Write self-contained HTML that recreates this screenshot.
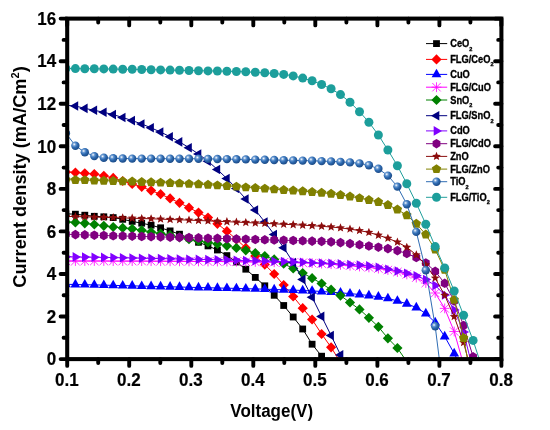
<!DOCTYPE html>
<html lang="en"><head><meta charset="utf-8"><title>J-V curves</title>
<style>html,body{margin:0;padding:0;background:#fff}svg{display:block}</style></head>
<body>
<svg width="550" height="430" viewBox="0 0 550 430" font-family="'Liberation Sans', Arial, sans-serif" font-weight="bold">
<defs><rect id="m-sq" x="-3.4" y="-3.4" width="6.8" height="6.8"/><polygon id="m-dia" points="0,-5.1 5.1,0 0,5.1 -5.1,0"/><polygon id="m-tu" points="0,-5.7 4.9,2.9 -4.9,2.9"/><polygon id="m-tl" points="-5.5,0 2.8,-4.8 2.8,4.8"/><polygon id="m-tr" points="5.5,0 -2.8,-4.8 -2.8,4.8"/><polygon id="m-hex" points="0,-4.8 3.9,-2.4 3.9,2.4 0,4.8 -3.9,2.4 -3.9,-2.4"/><polygon id="m-star" points="0,-4.6 1.2,-1.7 4.4,-1.4 1.9,0.6 2.7,3.7 0,2 -2.7,3.7 -1.9,0.6 -4.4,-1.4 -1.2,-1.7"/><polygon id="m-pent" points="0,-4.9 4.7,-1.5 2.9,4 -2.9,4 -4.7,-1.5"/><circle id="m-circ" r="4.5"/><g id="m-ast" fill="none" stroke-width="0.8"><path d="M0,-4.9V4.9M-4.9,0H4.9M-4.2,-4.2L4.2,4.2M-4.2,4.2L4.2,-4.2"/></g><radialGradient id="sg" cx="0.36" cy="0.34" r="0.62"><stop offset="0" stop-color="#ffffff"/><stop offset="0.3" stop-color="#6a9ad2"/><stop offset="0.6" stop-color="#2f6cb3"/><stop offset="1" stop-color="#1f4f8c"/></radialGradient><circle id="m-sph" r="4.2" fill="url(#sg)"/><filter id="bl" x="0" y="0" width="550" height="430" filterUnits="userSpaceOnUse"><feGaussianBlur stdDeviation="0.45"/></filter><clipPath id="cp"><rect x="67.2" y="18.6" width="434.2" height="342"/></clipPath></defs>
<rect width="550" height="430" fill="#fff"/>
<g filter="url(#bl)">
<g clip-path="url(#cp)">
<g fill="#000000" stroke="#000000">
<polyline fill="none" stroke-width="1" points="65.9,213.8 75.4,214.2 84.8,215.2 94.3,216.3 103.8,216.8 113.2,217.6 122.7,219.3 132.2,221.4 141.7,223.2 151.1,225.2 160.6,227.8 170.1,230.9 179.5,234.2 189,238 198.5,242.3 208,245.9 217.4,250 226.9,255.6 236.4,262 245.8,269.2 255.3,277.4 264.8,285.8 274.2,295.3 283.7,305.5 293.2,317 302.7,329 312.1,344.2 321.6,356.2 324.3,359.1"/>
<g stroke="none"><use href="#m-sq" x="65.9" y="213.8"/><use href="#m-sq" x="75.4" y="214.2"/><use href="#m-sq" x="84.8" y="215.2"/><use href="#m-sq" x="94.3" y="216.3"/><use href="#m-sq" x="103.8" y="216.8"/><use href="#m-sq" x="113.2" y="217.6"/><use href="#m-sq" x="122.7" y="219.3"/><use href="#m-sq" x="132.2" y="221.4"/><use href="#m-sq" x="141.7" y="223.2"/><use href="#m-sq" x="151.1" y="225.2"/><use href="#m-sq" x="160.6" y="227.8"/><use href="#m-sq" x="170.1" y="230.9"/><use href="#m-sq" x="179.5" y="234.2"/><use href="#m-sq" x="189" y="238"/><use href="#m-sq" x="198.5" y="242.3"/><use href="#m-sq" x="208" y="245.9"/><use href="#m-sq" x="217.4" y="250"/><use href="#m-sq" x="226.9" y="255.6"/><use href="#m-sq" x="236.4" y="262"/><use href="#m-sq" x="245.8" y="269.2"/><use href="#m-sq" x="255.3" y="277.4"/><use href="#m-sq" x="264.8" y="285.8"/><use href="#m-sq" x="274.2" y="295.3"/><use href="#m-sq" x="283.7" y="305.5"/><use href="#m-sq" x="293.2" y="317"/><use href="#m-sq" x="302.7" y="329"/><use href="#m-sq" x="312.1" y="344.2"/><use href="#m-sq" x="321.6" y="356.2"/></g>
</g>
<g fill="#ff0000" stroke="#ff0000">
<polyline fill="none" stroke-width="1" points="65.9,172 75.4,172.5 84.8,173.3 94.3,174 103.8,175.8 113.2,177.9 122.7,181 132.2,184 141.7,186.8 151.1,190.6 160.6,194.2 170.1,198.4 179.5,202.8 189,207.7 198.5,212.6 208,217.6 217.4,223.8 226.9,231.2 236.4,239.3 245.8,247.9 255.3,256 264.8,264.6 274.2,274 283.7,285 293.2,296.5 302.7,308.2 312.1,319.5 321.6,334 331.1,347.3 338.4,359.1"/>
<g stroke="none"><use href="#m-dia" x="65.9" y="172"/><use href="#m-dia" x="75.4" y="172.5"/><use href="#m-dia" x="84.8" y="173.3"/><use href="#m-dia" x="94.3" y="174"/><use href="#m-dia" x="103.8" y="175.8"/><use href="#m-dia" x="113.2" y="177.9"/><use href="#m-dia" x="122.7" y="181"/><use href="#m-dia" x="132.2" y="184"/><use href="#m-dia" x="141.7" y="186.8"/><use href="#m-dia" x="151.1" y="190.6"/><use href="#m-dia" x="160.6" y="194.2"/><use href="#m-dia" x="170.1" y="198.4"/><use href="#m-dia" x="179.5" y="202.8"/><use href="#m-dia" x="189" y="207.7"/><use href="#m-dia" x="198.5" y="212.6"/><use href="#m-dia" x="208" y="217.6"/><use href="#m-dia" x="217.4" y="223.8"/><use href="#m-dia" x="226.9" y="231.2"/><use href="#m-dia" x="236.4" y="239.3"/><use href="#m-dia" x="245.8" y="247.9"/><use href="#m-dia" x="255.3" y="256"/><use href="#m-dia" x="264.8" y="264.6"/><use href="#m-dia" x="274.2" y="274"/><use href="#m-dia" x="283.7" y="285"/><use href="#m-dia" x="293.2" y="296.5"/><use href="#m-dia" x="302.7" y="308.2"/><use href="#m-dia" x="312.1" y="319.5"/><use href="#m-dia" x="321.6" y="334"/><use href="#m-dia" x="331.1" y="347.3"/></g>
</g>
<g fill="#0000ff" stroke="#0000ff">
<polyline fill="none" stroke-width="1" points="65.9,284.3 75.4,284.5 84.8,284.7 94.3,284.9 103.8,285.1 113.2,285.4 122.7,285.6 132.2,285.8 141.7,286.1 151.1,286.3 160.6,286.5 170.1,286.8 179.5,287 189,287.3 198.5,287.5 208,287.7 217.4,288 226.9,288.2 236.4,288.4 245.8,288.7 255.3,288.9 264.8,289.2 274.2,289.5 283.7,289.8 293.2,290.1 302.7,290.5 312.1,290.9 321.6,291.5 331.1,292.1 340.5,292.8 350,293.6 359.5,294.5 368.9,295.5 378.4,296.8 387.9,298.4 397.4,300.9 406.8,303.8 416.3,307.5 425.8,313.5 435.2,322.5 444.7,336.5 454.2,353.5 457,359.1"/>
<g stroke="none"><use href="#m-tu" x="65.9" y="284.3"/><use href="#m-tu" x="75.4" y="284.5"/><use href="#m-tu" x="84.8" y="284.7"/><use href="#m-tu" x="94.3" y="284.9"/><use href="#m-tu" x="103.8" y="285.1"/><use href="#m-tu" x="113.2" y="285.4"/><use href="#m-tu" x="122.7" y="285.6"/><use href="#m-tu" x="132.2" y="285.8"/><use href="#m-tu" x="141.7" y="286.1"/><use href="#m-tu" x="151.1" y="286.3"/><use href="#m-tu" x="160.6" y="286.5"/><use href="#m-tu" x="170.1" y="286.8"/><use href="#m-tu" x="179.5" y="287"/><use href="#m-tu" x="189" y="287.3"/><use href="#m-tu" x="198.5" y="287.5"/><use href="#m-tu" x="208" y="287.7"/><use href="#m-tu" x="217.4" y="288"/><use href="#m-tu" x="226.9" y="288.2"/><use href="#m-tu" x="236.4" y="288.4"/><use href="#m-tu" x="245.8" y="288.7"/><use href="#m-tu" x="255.3" y="288.9"/><use href="#m-tu" x="264.8" y="289.2"/><use href="#m-tu" x="274.2" y="289.5"/><use href="#m-tu" x="283.7" y="289.8"/><use href="#m-tu" x="293.2" y="290.1"/><use href="#m-tu" x="302.7" y="290.5"/><use href="#m-tu" x="312.1" y="290.9"/><use href="#m-tu" x="321.6" y="291.5"/><use href="#m-tu" x="331.1" y="292.1"/><use href="#m-tu" x="340.5" y="292.8"/><use href="#m-tu" x="350" y="293.6"/><use href="#m-tu" x="359.5" y="294.5"/><use href="#m-tu" x="368.9" y="295.5"/><use href="#m-tu" x="378.4" y="296.8"/><use href="#m-tu" x="387.9" y="298.4"/><use href="#m-tu" x="397.4" y="300.9"/><use href="#m-tu" x="406.8" y="303.8"/><use href="#m-tu" x="416.3" y="307.5"/><use href="#m-tu" x="425.8" y="313.5"/><use href="#m-tu" x="435.2" y="322.5"/><use href="#m-tu" x="444.7" y="336.5"/><use href="#m-tu" x="454.2" y="353.5"/></g>
</g>
<g fill="#ff00ff" stroke="#ff00ff">
<polyline fill="none" stroke-width="1" points="65.9,261 75.4,261 84.8,261 94.3,261 103.8,261 113.2,261.1 122.7,261.1 132.2,261.1 141.7,261.1 151.1,261.2 160.6,261.2 170.1,261.3 179.5,261.3 189,261.4 198.5,261.4 208,261.5 217.4,261.5 226.9,261.6 236.4,261.7 245.8,261.8 255.3,261.9 264.8,262.1 274.2,262.2 283.7,262.4 293.2,262.6 302.7,262.8 312.1,263.1 321.6,263.6 331.1,264.2 340.5,264.9 350,265.7 359.5,266.5 368.9,267.4 378.4,268.6 387.9,270 397.4,272 406.8,274.4 416.3,277.6 425.8,283 435.2,293 444.7,308.4 454.2,331.5 462,359.1"/>
<g><use href="#m-ast" x="65.9" y="261"/><use href="#m-ast" x="75.4" y="261"/><use href="#m-ast" x="84.8" y="261"/><use href="#m-ast" x="94.3" y="261"/><use href="#m-ast" x="103.8" y="261"/><use href="#m-ast" x="113.2" y="261.1"/><use href="#m-ast" x="122.7" y="261.1"/><use href="#m-ast" x="132.2" y="261.1"/><use href="#m-ast" x="141.7" y="261.1"/><use href="#m-ast" x="151.1" y="261.2"/><use href="#m-ast" x="160.6" y="261.2"/><use href="#m-ast" x="170.1" y="261.3"/><use href="#m-ast" x="179.5" y="261.3"/><use href="#m-ast" x="189" y="261.4"/><use href="#m-ast" x="198.5" y="261.4"/><use href="#m-ast" x="208" y="261.5"/><use href="#m-ast" x="217.4" y="261.5"/><use href="#m-ast" x="226.9" y="261.6"/><use href="#m-ast" x="236.4" y="261.7"/><use href="#m-ast" x="245.8" y="261.8"/><use href="#m-ast" x="255.3" y="261.9"/><use href="#m-ast" x="264.8" y="262.1"/><use href="#m-ast" x="274.2" y="262.2"/><use href="#m-ast" x="283.7" y="262.4"/><use href="#m-ast" x="293.2" y="262.6"/><use href="#m-ast" x="302.7" y="262.8"/><use href="#m-ast" x="312.1" y="263.1"/><use href="#m-ast" x="321.6" y="263.6"/><use href="#m-ast" x="331.1" y="264.2"/><use href="#m-ast" x="340.5" y="264.9"/><use href="#m-ast" x="350" y="265.7"/><use href="#m-ast" x="359.5" y="266.5"/><use href="#m-ast" x="368.9" y="267.4"/><use href="#m-ast" x="378.4" y="268.6"/><use href="#m-ast" x="387.9" y="270"/><use href="#m-ast" x="397.4" y="272"/><use href="#m-ast" x="406.8" y="274.4"/><use href="#m-ast" x="416.3" y="277.6"/><use href="#m-ast" x="425.8" y="283"/><use href="#m-ast" x="435.2" y="293"/><use href="#m-ast" x="444.7" y="308.4"/><use href="#m-ast" x="454.2" y="331.5"/></g>
</g>
<g fill="#008000" stroke="#008000">
<polyline fill="none" stroke-width="1" points="65.9,222 75.4,222.4 84.8,223.3 94.3,224.5 103.8,225.8 113.2,227 122.7,227.9 132.2,228.8 141.7,230.3 151.1,232.1 160.6,233.6 170.1,235.2 179.5,237.3 189,239.2 198.5,241 208,242.5 217.4,244 226.9,245.8 236.4,247.9 245.8,250.3 255.3,253 264.8,256 274.2,259.4 283.7,263.7 293.2,268.4 302.7,273 312.1,278.2 321.6,283.5 331.1,289.7 340.5,295.6 350,302.5 359.5,309.4 368.9,317.8 378.4,326.8 387.9,338.3 397.4,348 405,359.1"/>
<g stroke="none"><use href="#m-dia" x="65.9" y="222"/><use href="#m-dia" x="75.4" y="222.4"/><use href="#m-dia" x="84.8" y="223.3"/><use href="#m-dia" x="94.3" y="224.5"/><use href="#m-dia" x="103.8" y="225.8"/><use href="#m-dia" x="113.2" y="227"/><use href="#m-dia" x="122.7" y="227.9"/><use href="#m-dia" x="132.2" y="228.8"/><use href="#m-dia" x="141.7" y="230.3"/><use href="#m-dia" x="151.1" y="232.1"/><use href="#m-dia" x="160.6" y="233.6"/><use href="#m-dia" x="170.1" y="235.2"/><use href="#m-dia" x="179.5" y="237.3"/><use href="#m-dia" x="189" y="239.2"/><use href="#m-dia" x="198.5" y="241"/><use href="#m-dia" x="208" y="242.5"/><use href="#m-dia" x="217.4" y="244"/><use href="#m-dia" x="226.9" y="245.8"/><use href="#m-dia" x="236.4" y="247.9"/><use href="#m-dia" x="245.8" y="250.3"/><use href="#m-dia" x="255.3" y="253"/><use href="#m-dia" x="264.8" y="256"/><use href="#m-dia" x="274.2" y="259.4"/><use href="#m-dia" x="283.7" y="263.7"/><use href="#m-dia" x="293.2" y="268.4"/><use href="#m-dia" x="302.7" y="273"/><use href="#m-dia" x="312.1" y="278.2"/><use href="#m-dia" x="321.6" y="283.5"/><use href="#m-dia" x="331.1" y="289.7"/><use href="#m-dia" x="340.5" y="295.6"/><use href="#m-dia" x="350" y="302.5"/><use href="#m-dia" x="359.5" y="309.4"/><use href="#m-dia" x="368.9" y="317.8"/><use href="#m-dia" x="378.4" y="326.8"/><use href="#m-dia" x="387.9" y="338.3"/><use href="#m-dia" x="397.4" y="348"/></g>
</g>
<g fill="#000080" stroke="#000080">
<polyline fill="none" stroke-width="1" points="65.9,105.3 75.4,106 84.8,108.4 94.3,110.3 103.8,112.3 113.2,114.6 122.7,117.5 132.2,120.6 141.7,124 151.1,127.8 160.6,132.1 170.1,136.7 179.5,141.9 189,147.7 198.5,154 208,161.2 217.4,169.5 226.9,178.6 236.4,188.5 245.8,199 255.3,210 264.8,222 274.2,234.5 283.7,247.7 293.2,262.5 302.7,279.4 312.1,297.2 321.6,316.4 331.1,335.5 340.5,354.9 342,359.1"/>
<g stroke="none"><use href="#m-tl" x="65.9" y="105.3"/><use href="#m-tl" x="75.4" y="106"/><use href="#m-tl" x="84.8" y="108.4"/><use href="#m-tl" x="94.3" y="110.3"/><use href="#m-tl" x="103.8" y="112.3"/><use href="#m-tl" x="113.2" y="114.6"/><use href="#m-tl" x="122.7" y="117.5"/><use href="#m-tl" x="132.2" y="120.6"/><use href="#m-tl" x="141.7" y="124"/><use href="#m-tl" x="151.1" y="127.8"/><use href="#m-tl" x="160.6" y="132.1"/><use href="#m-tl" x="170.1" y="136.7"/><use href="#m-tl" x="179.5" y="141.9"/><use href="#m-tl" x="189" y="147.7"/><use href="#m-tl" x="198.5" y="154"/><use href="#m-tl" x="208" y="161.2"/><use href="#m-tl" x="217.4" y="169.5"/><use href="#m-tl" x="226.9" y="178.6"/><use href="#m-tl" x="236.4" y="188.5"/><use href="#m-tl" x="245.8" y="199"/><use href="#m-tl" x="255.3" y="210"/><use href="#m-tl" x="264.8" y="222"/><use href="#m-tl" x="274.2" y="234.5"/><use href="#m-tl" x="283.7" y="247.7"/><use href="#m-tl" x="293.2" y="262.5"/><use href="#m-tl" x="302.7" y="279.4"/><use href="#m-tl" x="312.1" y="297.2"/><use href="#m-tl" x="321.6" y="316.4"/><use href="#m-tl" x="331.1" y="335.5"/><use href="#m-tl" x="340.5" y="354.9"/></g>
</g>
<g fill="#8000ff" stroke="#8000ff">
<polyline fill="none" stroke-width="1" points="65.9,256.7 75.4,256.9 84.8,257.1 94.3,257.2 103.8,257.4 113.2,257.6 122.7,257.8 132.2,258 141.7,258.2 151.1,258.4 160.6,258.6 170.1,258.8 179.5,259 189,259.2 198.5,259.4 208,259.6 217.4,259.8 226.9,260 236.4,260.3 245.8,260.5 255.3,260.8 264.8,261 274.2,261.3 283.7,261.6 293.2,261.9 302.7,262.3 312.1,262.7 321.6,263 331.1,263.4 340.5,263.9 350,264.5 359.5,265.1 368.9,265.9 378.4,267.3 387.9,269.2 397.4,271 406.8,273.3 416.3,275.8 425.8,279.6 435.2,285.4 444.7,295 454.2,309.9 463.6,332 470.3,359.1"/>
<g stroke="none"><use href="#m-tr" x="65.9" y="256.7"/><use href="#m-tr" x="75.4" y="256.9"/><use href="#m-tr" x="84.8" y="257.1"/><use href="#m-tr" x="94.3" y="257.2"/><use href="#m-tr" x="103.8" y="257.4"/><use href="#m-tr" x="113.2" y="257.6"/><use href="#m-tr" x="122.7" y="257.8"/><use href="#m-tr" x="132.2" y="258"/><use href="#m-tr" x="141.7" y="258.2"/><use href="#m-tr" x="151.1" y="258.4"/><use href="#m-tr" x="160.6" y="258.6"/><use href="#m-tr" x="170.1" y="258.8"/><use href="#m-tr" x="179.5" y="259"/><use href="#m-tr" x="189" y="259.2"/><use href="#m-tr" x="198.5" y="259.4"/><use href="#m-tr" x="208" y="259.6"/><use href="#m-tr" x="217.4" y="259.8"/><use href="#m-tr" x="226.9" y="260"/><use href="#m-tr" x="236.4" y="260.3"/><use href="#m-tr" x="245.8" y="260.5"/><use href="#m-tr" x="255.3" y="260.8"/><use href="#m-tr" x="264.8" y="261"/><use href="#m-tr" x="274.2" y="261.3"/><use href="#m-tr" x="283.7" y="261.6"/><use href="#m-tr" x="293.2" y="261.9"/><use href="#m-tr" x="302.7" y="262.3"/><use href="#m-tr" x="312.1" y="262.7"/><use href="#m-tr" x="321.6" y="263"/><use href="#m-tr" x="331.1" y="263.4"/><use href="#m-tr" x="340.5" y="263.9"/><use href="#m-tr" x="350" y="264.5"/><use href="#m-tr" x="359.5" y="265.1"/><use href="#m-tr" x="368.9" y="265.9"/><use href="#m-tr" x="378.4" y="267.3"/><use href="#m-tr" x="387.9" y="269.2"/><use href="#m-tr" x="397.4" y="271"/><use href="#m-tr" x="406.8" y="273.3"/><use href="#m-tr" x="416.3" y="275.8"/><use href="#m-tr" x="425.8" y="279.6"/><use href="#m-tr" x="435.2" y="285.4"/><use href="#m-tr" x="444.7" y="295"/><use href="#m-tr" x="454.2" y="309.9"/><use href="#m-tr" x="463.6" y="332"/></g>
</g>
<g fill="#800080" stroke="#800080">
<polyline fill="none" stroke-width="1" points="65.9,234.2 75.4,234.6 84.8,234.9 94.3,235.2 103.8,235.5 113.2,235.8 122.7,236 132.2,236.2 141.7,236.5 151.1,236.7 160.6,236.9 170.1,237.2 179.5,237.4 189,237.6 198.5,237.9 208,238.2 217.4,238.4 226.9,238.7 236.4,239 245.8,239.2 255.3,239.5 264.8,239.8 274.2,240 283.7,240.2 293.2,240.5 302.7,240.8 312.1,241.1 321.6,241.4 331.1,241.9 340.5,242.6 350,243.6 359.5,244.8 368.9,246 378.4,247.2 387.9,248.6 397.4,250.6 406.8,253.5 416.3,257.5 425.8,263 435.2,271.3 444.7,283.3 454.2,301 463.6,325.5 473.1,356.8 474,359.1"/>
<g stroke="none"><use href="#m-hex" x="65.9" y="234.2"/><use href="#m-hex" x="75.4" y="234.6"/><use href="#m-hex" x="84.8" y="234.9"/><use href="#m-hex" x="94.3" y="235.2"/><use href="#m-hex" x="103.8" y="235.5"/><use href="#m-hex" x="113.2" y="235.8"/><use href="#m-hex" x="122.7" y="236"/><use href="#m-hex" x="132.2" y="236.2"/><use href="#m-hex" x="141.7" y="236.5"/><use href="#m-hex" x="151.1" y="236.7"/><use href="#m-hex" x="160.6" y="236.9"/><use href="#m-hex" x="170.1" y="237.2"/><use href="#m-hex" x="179.5" y="237.4"/><use href="#m-hex" x="189" y="237.6"/><use href="#m-hex" x="198.5" y="237.9"/><use href="#m-hex" x="208" y="238.2"/><use href="#m-hex" x="217.4" y="238.4"/><use href="#m-hex" x="226.9" y="238.7"/><use href="#m-hex" x="236.4" y="239"/><use href="#m-hex" x="245.8" y="239.2"/><use href="#m-hex" x="255.3" y="239.5"/><use href="#m-hex" x="264.8" y="239.8"/><use href="#m-hex" x="274.2" y="240"/><use href="#m-hex" x="283.7" y="240.2"/><use href="#m-hex" x="293.2" y="240.5"/><use href="#m-hex" x="302.7" y="240.8"/><use href="#m-hex" x="312.1" y="241.1"/><use href="#m-hex" x="321.6" y="241.4"/><use href="#m-hex" x="331.1" y="241.9"/><use href="#m-hex" x="340.5" y="242.6"/><use href="#m-hex" x="350" y="243.6"/><use href="#m-hex" x="359.5" y="244.8"/><use href="#m-hex" x="368.9" y="246"/><use href="#m-hex" x="378.4" y="247.2"/><use href="#m-hex" x="387.9" y="248.6"/><use href="#m-hex" x="397.4" y="250.6"/><use href="#m-hex" x="406.8" y="253.5"/><use href="#m-hex" x="416.3" y="257.5"/><use href="#m-hex" x="425.8" y="263"/><use href="#m-hex" x="435.2" y="271.3"/><use href="#m-hex" x="444.7" y="283.3"/><use href="#m-hex" x="454.2" y="301"/><use href="#m-hex" x="463.6" y="325.5"/><use href="#m-hex" x="473.1" y="356.8"/></g>
</g>
<g fill="#8a0808" stroke="#8a0808">
<polyline fill="none" stroke-width="1" points="65.9,216.4 75.4,216.6 84.8,216.8 94.3,217.1 103.8,217.3 113.2,217.6 122.7,217.9 132.2,218.2 141.7,218.5 151.1,218.8 160.6,219.1 170.1,219.5 179.5,219.8 189,220.1 198.5,220.5 208,220.9 217.4,221.3 226.9,221.7 236.4,222.1 245.8,222.5 255.3,223 264.8,223.4 274.2,223.8 283.7,224.3 293.2,224.7 302.7,225.2 312.1,225.7 321.6,226.3 331.1,227 340.5,227.9 350,229.1 359.5,230.6 368.9,232.4 378.4,235.2 387.9,238.3 397.4,242.1 406.8,247.3 416.3,254.9 425.8,265 435.2,278.1 444.7,295.3 454.2,316.6 463.6,342.6 468,359.1"/>
<g stroke="none"><use href="#m-star" x="65.9" y="216.4"/><use href="#m-star" x="75.4" y="216.6"/><use href="#m-star" x="84.8" y="216.8"/><use href="#m-star" x="94.3" y="217.1"/><use href="#m-star" x="103.8" y="217.3"/><use href="#m-star" x="113.2" y="217.6"/><use href="#m-star" x="122.7" y="217.9"/><use href="#m-star" x="132.2" y="218.2"/><use href="#m-star" x="141.7" y="218.5"/><use href="#m-star" x="151.1" y="218.8"/><use href="#m-star" x="160.6" y="219.1"/><use href="#m-star" x="170.1" y="219.5"/><use href="#m-star" x="179.5" y="219.8"/><use href="#m-star" x="189" y="220.1"/><use href="#m-star" x="198.5" y="220.5"/><use href="#m-star" x="208" y="220.9"/><use href="#m-star" x="217.4" y="221.3"/><use href="#m-star" x="226.9" y="221.7"/><use href="#m-star" x="236.4" y="222.1"/><use href="#m-star" x="245.8" y="222.5"/><use href="#m-star" x="255.3" y="223"/><use href="#m-star" x="264.8" y="223.4"/><use href="#m-star" x="274.2" y="223.8"/><use href="#m-star" x="283.7" y="224.3"/><use href="#m-star" x="293.2" y="224.7"/><use href="#m-star" x="302.7" y="225.2"/><use href="#m-star" x="312.1" y="225.7"/><use href="#m-star" x="321.6" y="226.3"/><use href="#m-star" x="331.1" y="227"/><use href="#m-star" x="340.5" y="227.9"/><use href="#m-star" x="350" y="229.1"/><use href="#m-star" x="359.5" y="230.6"/><use href="#m-star" x="368.9" y="232.4"/><use href="#m-star" x="378.4" y="235.2"/><use href="#m-star" x="387.9" y="238.3"/><use href="#m-star" x="397.4" y="242.1"/><use href="#m-star" x="406.8" y="247.3"/><use href="#m-star" x="416.3" y="254.9"/><use href="#m-star" x="425.8" y="265"/><use href="#m-star" x="435.2" y="278.1"/><use href="#m-star" x="444.7" y="295.3"/><use href="#m-star" x="454.2" y="316.6"/><use href="#m-star" x="463.6" y="342.6"/></g>
</g>
<g fill="#808000" stroke="#808000">
<polyline fill="none" stroke-width="1" points="65.9,179.7 75.4,179.9 84.8,180.1 94.3,180.4 103.8,180.7 113.2,180.9 122.7,181.2 132.2,181.5 141.7,181.9 151.1,182.2 160.6,182.6 170.1,182.9 179.5,183.3 189,183.8 198.5,184.2 208,184.7 217.4,185.3 226.9,185.9 236.4,186.6 245.8,187.3 255.3,188 264.8,188.6 274.2,189.3 283.7,189.9 293.2,190.5 302.7,191.2 312.1,191.9 321.6,192.7 331.1,193.7 340.5,194.9 350,196.4 359.5,198.1 368.9,199.9 378.4,202 387.9,205 397.4,209.4 406.8,215.3 416.3,223.7 425.8,234.5 435.2,249.5 444.7,269.8 454.2,299.8 463.6,337.9 467.5,359.1"/>
<g stroke="none"><use href="#m-pent" x="65.9" y="179.7"/><use href="#m-pent" x="75.4" y="179.9"/><use href="#m-pent" x="84.8" y="180.1"/><use href="#m-pent" x="94.3" y="180.4"/><use href="#m-pent" x="103.8" y="180.7"/><use href="#m-pent" x="113.2" y="180.9"/><use href="#m-pent" x="122.7" y="181.2"/><use href="#m-pent" x="132.2" y="181.5"/><use href="#m-pent" x="141.7" y="181.9"/><use href="#m-pent" x="151.1" y="182.2"/><use href="#m-pent" x="160.6" y="182.6"/><use href="#m-pent" x="170.1" y="182.9"/><use href="#m-pent" x="179.5" y="183.3"/><use href="#m-pent" x="189" y="183.8"/><use href="#m-pent" x="198.5" y="184.2"/><use href="#m-pent" x="208" y="184.7"/><use href="#m-pent" x="217.4" y="185.3"/><use href="#m-pent" x="226.9" y="185.9"/><use href="#m-pent" x="236.4" y="186.6"/><use href="#m-pent" x="245.8" y="187.3"/><use href="#m-pent" x="255.3" y="188"/><use href="#m-pent" x="264.8" y="188.6"/><use href="#m-pent" x="274.2" y="189.3"/><use href="#m-pent" x="283.7" y="189.9"/><use href="#m-pent" x="293.2" y="190.5"/><use href="#m-pent" x="302.7" y="191.2"/><use href="#m-pent" x="312.1" y="191.9"/><use href="#m-pent" x="321.6" y="192.7"/><use href="#m-pent" x="331.1" y="193.7"/><use href="#m-pent" x="340.5" y="194.9"/><use href="#m-pent" x="350" y="196.4"/><use href="#m-pent" x="359.5" y="198.1"/><use href="#m-pent" x="368.9" y="199.9"/><use href="#m-pent" x="378.4" y="202"/><use href="#m-pent" x="387.9" y="205"/><use href="#m-pent" x="397.4" y="209.4"/><use href="#m-pent" x="406.8" y="215.3"/><use href="#m-pent" x="416.3" y="223.7"/><use href="#m-pent" x="425.8" y="234.5"/><use href="#m-pent" x="435.2" y="249.5"/><use href="#m-pent" x="444.7" y="269.8"/><use href="#m-pent" x="454.2" y="299.8"/><use href="#m-pent" x="463.6" y="337.9"/></g>
</g>
<g fill="#2f6cb3" stroke="#2f6cb3">
<polyline fill="none" stroke-width="1" points="65.9,133.3 75.4,145.7 84.8,152.3 94.3,156.1 103.8,157.7 113.2,158.3 122.7,158.5 132.2,158.6 141.7,158.6 151.1,158.6 160.6,158.7 170.1,158.7 179.5,158.7 189,158.7 198.5,158.8 208,158.9 217.4,159 226.9,159.1 236.4,159.3 245.8,159.4 255.3,159.6 264.8,159.8 274.2,160 283.7,160.2 293.2,160.4 302.7,160.6 312.1,160.8 321.6,161.1 331.1,161.4 340.5,161.9 350,162.4 359.5,163.4 368.9,165.2 378.4,168.8 387.9,175.6 397.4,186.6 406.8,204.3 416.3,231.9 425.8,270.3 435.2,326.3 439.3,359.1"/>
<g stroke="none"><use href="#m-sph" x="65.9" y="133.3"/><use href="#m-sph" x="75.4" y="145.7"/><use href="#m-sph" x="84.8" y="152.3"/><use href="#m-sph" x="94.3" y="156.1"/><use href="#m-sph" x="103.8" y="157.7"/><use href="#m-sph" x="113.2" y="158.3"/><use href="#m-sph" x="122.7" y="158.5"/><use href="#m-sph" x="132.2" y="158.6"/><use href="#m-sph" x="141.7" y="158.6"/><use href="#m-sph" x="151.1" y="158.6"/><use href="#m-sph" x="160.6" y="158.7"/><use href="#m-sph" x="170.1" y="158.7"/><use href="#m-sph" x="179.5" y="158.7"/><use href="#m-sph" x="189" y="158.7"/><use href="#m-sph" x="198.5" y="158.8"/><use href="#m-sph" x="208" y="158.9"/><use href="#m-sph" x="217.4" y="159"/><use href="#m-sph" x="226.9" y="159.1"/><use href="#m-sph" x="236.4" y="159.3"/><use href="#m-sph" x="245.8" y="159.4"/><use href="#m-sph" x="255.3" y="159.6"/><use href="#m-sph" x="264.8" y="159.8"/><use href="#m-sph" x="274.2" y="160"/><use href="#m-sph" x="283.7" y="160.2"/><use href="#m-sph" x="293.2" y="160.4"/><use href="#m-sph" x="302.7" y="160.6"/><use href="#m-sph" x="312.1" y="160.8"/><use href="#m-sph" x="321.6" y="161.1"/><use href="#m-sph" x="331.1" y="161.4"/><use href="#m-sph" x="340.5" y="161.9"/><use href="#m-sph" x="350" y="162.4"/><use href="#m-sph" x="359.5" y="163.4"/><use href="#m-sph" x="368.9" y="165.2"/><use href="#m-sph" x="378.4" y="168.8"/><use href="#m-sph" x="387.9" y="175.6"/><use href="#m-sph" x="397.4" y="186.6"/><use href="#m-sph" x="406.8" y="204.3"/><use href="#m-sph" x="416.3" y="231.9"/><use href="#m-sph" x="425.8" y="270.3"/><use href="#m-sph" x="435.2" y="326.3"/></g>
</g>
<g fill="#1f9e9b" stroke="#1f9e9b">
<polyline fill="none" stroke-width="1" points="65.9,68.5 75.4,68.6 84.8,68.7 94.3,68.8 103.8,68.9 113.2,69.1 122.7,69.2 132.2,69.3 141.7,69.5 151.1,69.7 160.6,69.9 170.1,70.1 179.5,70.3 189,70.5 198.5,70.7 208,70.9 217.4,71 226.9,71.2 236.4,71.5 245.8,71.8 255.3,72.3 264.8,72.8 274.2,73.5 283.7,74.4 293.2,75.9 302.7,78.1 312.1,80.8 321.6,84.5 331.1,88.8 340.5,94.6 350,102.2 359.5,111.7 368.9,122.2 378.4,135 387.9,150 397.4,165.7 406.8,183.8 416.3,203.2 425.8,224.2 435.2,246.6 444.7,267.9 454.2,291 463.6,315.3 473.1,340.4 479.2,359.1"/>
<g stroke="none"><use href="#m-circ" x="65.9" y="68.5"/><use href="#m-circ" x="75.4" y="68.6"/><use href="#m-circ" x="84.8" y="68.7"/><use href="#m-circ" x="94.3" y="68.8"/><use href="#m-circ" x="103.8" y="68.9"/><use href="#m-circ" x="113.2" y="69.1"/><use href="#m-circ" x="122.7" y="69.2"/><use href="#m-circ" x="132.2" y="69.3"/><use href="#m-circ" x="141.7" y="69.5"/><use href="#m-circ" x="151.1" y="69.7"/><use href="#m-circ" x="160.6" y="69.9"/><use href="#m-circ" x="170.1" y="70.1"/><use href="#m-circ" x="179.5" y="70.3"/><use href="#m-circ" x="189" y="70.5"/><use href="#m-circ" x="198.5" y="70.7"/><use href="#m-circ" x="208" y="70.9"/><use href="#m-circ" x="217.4" y="71"/><use href="#m-circ" x="226.9" y="71.2"/><use href="#m-circ" x="236.4" y="71.5"/><use href="#m-circ" x="245.8" y="71.8"/><use href="#m-circ" x="255.3" y="72.3"/><use href="#m-circ" x="264.8" y="72.8"/><use href="#m-circ" x="274.2" y="73.5"/><use href="#m-circ" x="283.7" y="74.4"/><use href="#m-circ" x="293.2" y="75.9"/><use href="#m-circ" x="302.7" y="78.1"/><use href="#m-circ" x="312.1" y="80.8"/><use href="#m-circ" x="321.6" y="84.5"/><use href="#m-circ" x="331.1" y="88.8"/><use href="#m-circ" x="340.5" y="94.6"/><use href="#m-circ" x="350" y="102.2"/><use href="#m-circ" x="359.5" y="111.7"/><use href="#m-circ" x="368.9" y="122.2"/><use href="#m-circ" x="378.4" y="135"/><use href="#m-circ" x="387.9" y="150"/><use href="#m-circ" x="397.4" y="165.7"/><use href="#m-circ" x="406.8" y="183.8"/><use href="#m-circ" x="416.3" y="203.2"/><use href="#m-circ" x="425.8" y="224.2"/><use href="#m-circ" x="435.2" y="246.6"/><use href="#m-circ" x="444.7" y="267.9"/><use href="#m-circ" x="454.2" y="291"/><use href="#m-circ" x="463.6" y="315.3"/><use href="#m-circ" x="473.1" y="340.4"/></g>
</g>
</g>
<g fill="#000000" stroke="#000000"><path d="M426,43.6H447.2" stroke-width="1" fill="none"/>
<use href="#m-sq" x="436.5" y="43.6" stroke="none" transform="translate(436.5 43.6) scale(1) translate(-436.5 -43.6)"/></g>
<text transform="translate(450.2 47.1) scale(1 1.1)" font-size="9.3" fill="#000" stroke="#000" stroke-width="0.3">CeO<tspan font-size="5.6" dy="3.2">2</tspan></text>
<g fill="#ff0000" stroke="#ff0000"><path d="M426,59.4H447.2" stroke-width="1" fill="none"/>
<use href="#m-dia" x="436.5" y="59.4" stroke="none" transform="translate(436.5 59.4) scale(1) translate(-436.5 -59.4)"/></g>
<text transform="translate(450.2 62.9) scale(1 1.1)" font-size="9.3" fill="#000" stroke="#000" stroke-width="0.3">FLG/CeO<tspan font-size="5.6" dy="3.2">2</tspan></text>
<g fill="#0000ff" stroke="#0000ff"><path d="M426,74.4H447.2" stroke-width="1" fill="none"/>
<use href="#m-tu" x="436.5" y="74.4" stroke="none" transform="translate(436.5 74.4) scale(1) translate(-436.5 -74.4)"/></g>
<text transform="translate(450.2 77.9) scale(1 1.1)" font-size="9.3" fill="#000" stroke="#000" stroke-width="0.3">CuO</text>
<g fill="#ff00ff" stroke="#ff00ff"><path d="M426,87.2H447.2" stroke-width="1" fill="none"/>
<use href="#m-ast" x="436.5" y="87.2" transform="translate(436.5 87.2) scale(1) translate(-436.5 -87.2)"/></g>
<text transform="translate(450.2 90.7) scale(1 1.1)" font-size="9.3" fill="#000" stroke="#000" stroke-width="0.3">FLG/CuO</text>
<g fill="#008000" stroke="#008000"><path d="M426,100H447.2" stroke-width="1" fill="none"/>
<use href="#m-dia" x="436.5" y="100" stroke="none" transform="translate(436.5 100) scale(1) translate(-436.5 -100)"/></g>
<text transform="translate(450.2 103.5) scale(1 1.1)" font-size="9.3" fill="#000" stroke="#000" stroke-width="0.3">SnO<tspan font-size="5.6" dy="3.2">2</tspan></text>
<g fill="#000080" stroke="#000080"><path d="M426,115.7H447.2" stroke-width="1" fill="none"/>
<use href="#m-tl" x="436.5" y="115.7" stroke="none" transform="translate(436.5 115.7) scale(1) translate(-436.5 -115.7)"/></g>
<text transform="translate(450.2 119.2) scale(1 1.1)" font-size="9.3" fill="#000" stroke="#000" stroke-width="0.3">FLG/SnO<tspan font-size="5.6" dy="3.2">2</tspan></text>
<g fill="#8000ff" stroke="#8000ff"><path d="M426,130.9H447.2" stroke-width="1" fill="none"/>
<use href="#m-tr" x="436.5" y="130.9" stroke="none" transform="translate(436.5 130.9) scale(1) translate(-436.5 -130.9)"/></g>
<text transform="translate(450.2 134.4) scale(1 1.1)" font-size="9.3" fill="#000" stroke="#000" stroke-width="0.3">CdO</text>
<g fill="#800080" stroke="#800080"><path d="M426,143.7H447.2" stroke-width="1" fill="none"/>
<use href="#m-hex" x="436.5" y="143.7" stroke="none" transform="translate(436.5 143.7) scale(1) translate(-436.5 -143.7)"/></g>
<text transform="translate(450.2 147.2) scale(1 1.1)" font-size="9.3" fill="#000" stroke="#000" stroke-width="0.3">FLG/CdO</text>
<g fill="#8a0808" stroke="#8a0808"><path d="M426,156.4H447.2" stroke-width="1" fill="none"/>
<use href="#m-star" x="436.5" y="156.4" stroke="none" transform="translate(436.5 156.4) scale(1) translate(-436.5 -156.4)"/></g>
<text transform="translate(450.2 159.9) scale(1 1.1)" font-size="9.3" fill="#000" stroke="#000" stroke-width="0.3">ZnO</text>
<g fill="#808000" stroke="#808000"><path d="M426,169.1H447.2" stroke-width="1" fill="none"/>
<use href="#m-pent" x="436.5" y="169.1" stroke="none" transform="translate(436.5 169.1) scale(1) translate(-436.5 -169.1)"/></g>
<text transform="translate(450.2 172.6) scale(1 1.1)" font-size="9.3" fill="#000" stroke="#000" stroke-width="0.3">FLG/ZnO</text>
<g fill="#2f6cb3" stroke="#2f6cb3"><path d="M426,181.7H447.2" stroke-width="1" fill="none"/>
<use href="#m-sph" x="436.5" y="181.7" stroke="none" transform="translate(436.5 181.7) scale(1) translate(-436.5 -181.7)"/></g>
<text transform="translate(450.2 185.2) scale(1 1.1)" font-size="9.3" fill="#000" stroke="#000" stroke-width="0.3">TiO<tspan font-size="5.6" dy="3.2">2</tspan></text>
<g fill="#1f9e9b" stroke="#1f9e9b"><path d="M426,197.3H447.2" stroke-width="1" fill="none"/>
<use href="#m-circ" x="436.5" y="197.3" stroke="none" transform="translate(436.5 197.3) scale(1) translate(-436.5 -197.3)"/></g>
<text transform="translate(450.2 200.8) scale(1 1.1)" font-size="9.3" fill="#000" stroke="#000" stroke-width="0.3">FLG/TiO<tspan font-size="5.6" dy="3.2">2</tspan></text>
<g stroke="#000" stroke-width="4.05" fill="none" stroke-linecap="butt">
<rect x="67.2" y="18.6" width="434.2" height="340.5"/>
</g>
<path d="M67.2,359.1H60.6M501.4,359.1H495.1M67.2,337.8H63.6M501.4,337.8H498.2M67.2,316.5H60.6M501.4,316.5H495.1M67.2,295.3H63.6M501.4,295.3H498.2M67.2,274H60.6M501.4,274H495.1M67.2,252.7H63.6M501.4,252.7H498.2M67.2,231.4H60.6M501.4,231.4H495.1M67.2,210.1H63.6M501.4,210.1H498.2M67.2,188.9H60.6M501.4,188.9H495.1M67.2,167.6H63.6M501.4,167.6H498.2M67.2,146.3H60.6M501.4,146.3H495.1M67.2,125H63.6M501.4,125H498.2M67.2,103.7H60.6M501.4,103.7H495.1M67.2,82.4H63.6M501.4,82.4H498.2M67.2,61.2H60.6M501.4,61.2H495.1M67.2,39.9H63.6M501.4,39.9H498.2M67.2,18.6H60.6M501.4,18.6H495.1M67.2,359.1V365.9M67.2,18.6V25.4M98.2,359.1V363M98.2,18.6V22.5M129.2,359.1V365.9M129.2,18.6V25.4M160.3,359.1V363M160.3,18.6V22.5M191.3,359.1V365.9M191.3,18.6V25.4M222.3,359.1V363M222.3,18.6V22.5M253.3,359.1V365.9M253.3,18.6V25.4M284.3,359.1V363M284.3,18.6V22.5M315.3,359.1V365.9M315.3,18.6V25.4M346.4,359.1V363M346.4,18.6V22.5M377.4,359.1V365.9M377.4,18.6V25.4M408.4,359.1V363M408.4,18.6V22.5M439.4,359.1V365.9M439.4,18.6V25.4M470.4,359.1V363M470.4,18.6V22.5M501.4,359.1V365.9M501.4,18.6V25.4" stroke="#000" stroke-width="3.9" fill="none" stroke-linecap="round"/>
<g font-size="17" fill="#000" stroke="#000" stroke-width="0.2">
<text transform="translate(56.2 365.3) scale(1 1.05)" text-anchor="end">0</text>
<text transform="translate(56.2 322.7) scale(1 1.05)" text-anchor="end">2</text>
<text transform="translate(56.2 280.2) scale(1 1.05)" text-anchor="end">4</text>
<text transform="translate(56.2 237.6) scale(1 1.05)" text-anchor="end">6</text>
<text transform="translate(56.2 195.1) scale(1 1.05)" text-anchor="end">8</text>
<text transform="translate(56.2 152.5) scale(1 1.05)" text-anchor="end">10</text>
<text transform="translate(56.2 109.9) scale(1 1.05)" text-anchor="end">12</text>
<text transform="translate(56.2 67.4) scale(1 1.05)" text-anchor="end">14</text>
<text transform="translate(56.2 24.8) scale(1 1.05)" text-anchor="end">16</text>
<text transform="translate(66.8 385.8) scale(1 1.05)" text-anchor="middle">0.1</text>
<text transform="translate(128.8 385.8) scale(1 1.05)" text-anchor="middle">0.2</text>
<text transform="translate(190.9 385.8) scale(1 1.05)" text-anchor="middle">0.3</text>
<text transform="translate(252.9 385.8) scale(1 1.05)" text-anchor="middle">0.4</text>
<text transform="translate(314.9 385.8) scale(1 1.05)" text-anchor="middle">0.5</text>
<text transform="translate(377 385.8) scale(1 1.05)" text-anchor="middle">0.6</text>
<text transform="translate(439 385.8) scale(1 1.05)" text-anchor="middle">0.7</text>
<text transform="translate(501.1 385.8) scale(1 1.05)" text-anchor="middle">0.8</text>
</g>
<text transform="translate(271.7 416.6) scale(1 1.05)" font-size="17" text-anchor="middle" fill="#000">Voltage(V)</text>
<text transform="translate(25.8 177) rotate(-90) scale(1 1.05)" font-size="18.2" text-anchor="middle" fill="#000">Current density (mA/Cm<tspan font-size="11" dy="-6.5">2</tspan><tspan dy="6.5">)</tspan></text>
</g>
</svg>
</body></html>
